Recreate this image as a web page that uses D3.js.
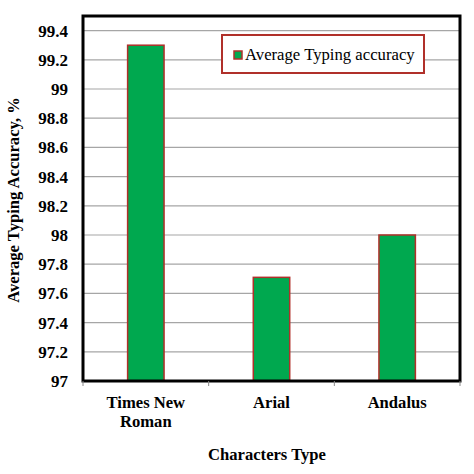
<!DOCTYPE html>
<html><head><meta charset="utf-8">
<script src="https://cdn.jsdelivr.net/npm/d3@7"></script>
<style>body{margin:0;background:#fff}svg{display:block}</style>
</head><body>
<svg id="c" width="474" height="474"></svg>
<script>
const categories = [["Times New","Roman"],["Arial"],["Andalus"]];
const values = [99.3, 97.71, 98.0];
const yTicks = [97, 97.2, 97.4, 97.6, 97.8, 98, 98.2, 98.4, 98.6, 98.8, 99, 99.2, 99.4];
const seriesName = "Average Typing accuracy";
const xTitle = "Characters Type";
const yTitle = "Average Typing Accuracy, %";

const svg = d3.select("#c");
const L = 83, R = 460, T = 16, B = 381;
const font = "Liberation Serif";
const green = "#00a84f", red = "#b0302a";

function bold(sel, size) {
  sel.attr("font-family", font).attr("font-weight", "bold").attr("font-size", size).attr("fill", "#000");
}

const x = d3.scaleBand().domain(d3.range(categories.length)).range([L, R]).paddingInner(0.71).paddingOuter(0.355);
const xb = d3.scaleBand().domain(d3.range(categories.length)).range([L, R]);
const y = d3.scaleLinear().domain([97, 99.5]).range([B, T]);

// gridlines
svg.append("g").selectAll("line").data(yTicks.slice(1)).join("line")
  .attr("x1", L).attr("x2", R).attr("y1", d => y(d)).attr("y2", d => y(d))
  .attr("stroke", "#a6a6a6").attr("stroke-width", 1.2);

// bars
svg.append("g").selectAll("rect").data(values).join("rect")
  .attr("x", (d, i) => x(i)).attr("width", x.bandwidth())
  .attr("y", d => y(d)).attr("height", d => y(97) - y(d))
  .attr("fill", green).attr("stroke", red).attr("stroke-width", 1.5);

// frame
svg.append("rect").attr("x", L).attr("y", T).attr("width", R - L).attr("height", B - T)
  .attr("fill", "none").attr("stroke", "#000").attr("stroke-width", 3);

// y axis labels
const yAxis = svg.append("g").attr("transform", `translate(${L},0)`)
  .call(d3.axisLeft(y).tickValues(yTicks).tickSize(0).tickPadding(15).tickFormat(d3.format("~g")));
yAxis.select(".domain").remove();
bold(yAxis.selectAll("text"), 17);

// x axis ticks at band boundaries
const bounds = d3.range(categories.length + 1).map(i => i === categories.length ? R : xb(i));
svg.append("g").selectAll("line").data(bounds).join("line")
  .attr("x1", d => d).attr("x2", d => d).attr("y1", B).attr("y2", B + 5)
  .attr("stroke", "#888").attr("stroke-width", 1);

// x labels
const xl = svg.append("g").selectAll("text").data(categories).join("text")
  .attr("x", (d, i) => xb(i) + xb.bandwidth() / 2).attr("y", 408)
  .attr("text-anchor", "middle");
bold(xl, 16.6);
xl.each(function(d) {
  const t = d3.select(this);
  d.forEach((s, k) => t.append("tspan").attr("x", t.attr("x")).attr("dy", k === 0 ? 0 : 19).text(s));
});

// axis titles
bold(svg.append("text").attr("x", 267).attr("y", 460).attr("text-anchor", "middle").text(xTitle), 16.6);
bold(svg.append("text").attr("transform", "translate(19,200) rotate(-90)").attr("text-anchor", "middle").text(yTitle), 16.6);

// legend
const lg = svg.append("g");
lg.append("rect").attr("x", 222).attr("y", 35).attr("width", 202).attr("height", 38)
  .attr("fill", "#fff").attr("stroke", red).attr("stroke-width", 2);
lg.append("rect").attr("x", 234).attr("y", 51).attr("width", 8).attr("height", 8)
  .attr("fill", green).attr("stroke", red).attr("stroke-width", 1.5);
lg.append("text").attr("x", 245).attr("y", 60).attr("font-family", font).attr("font-size", 16.7)
  .attr("fill", "#000").text(seriesName);
</script>
</body></html>
